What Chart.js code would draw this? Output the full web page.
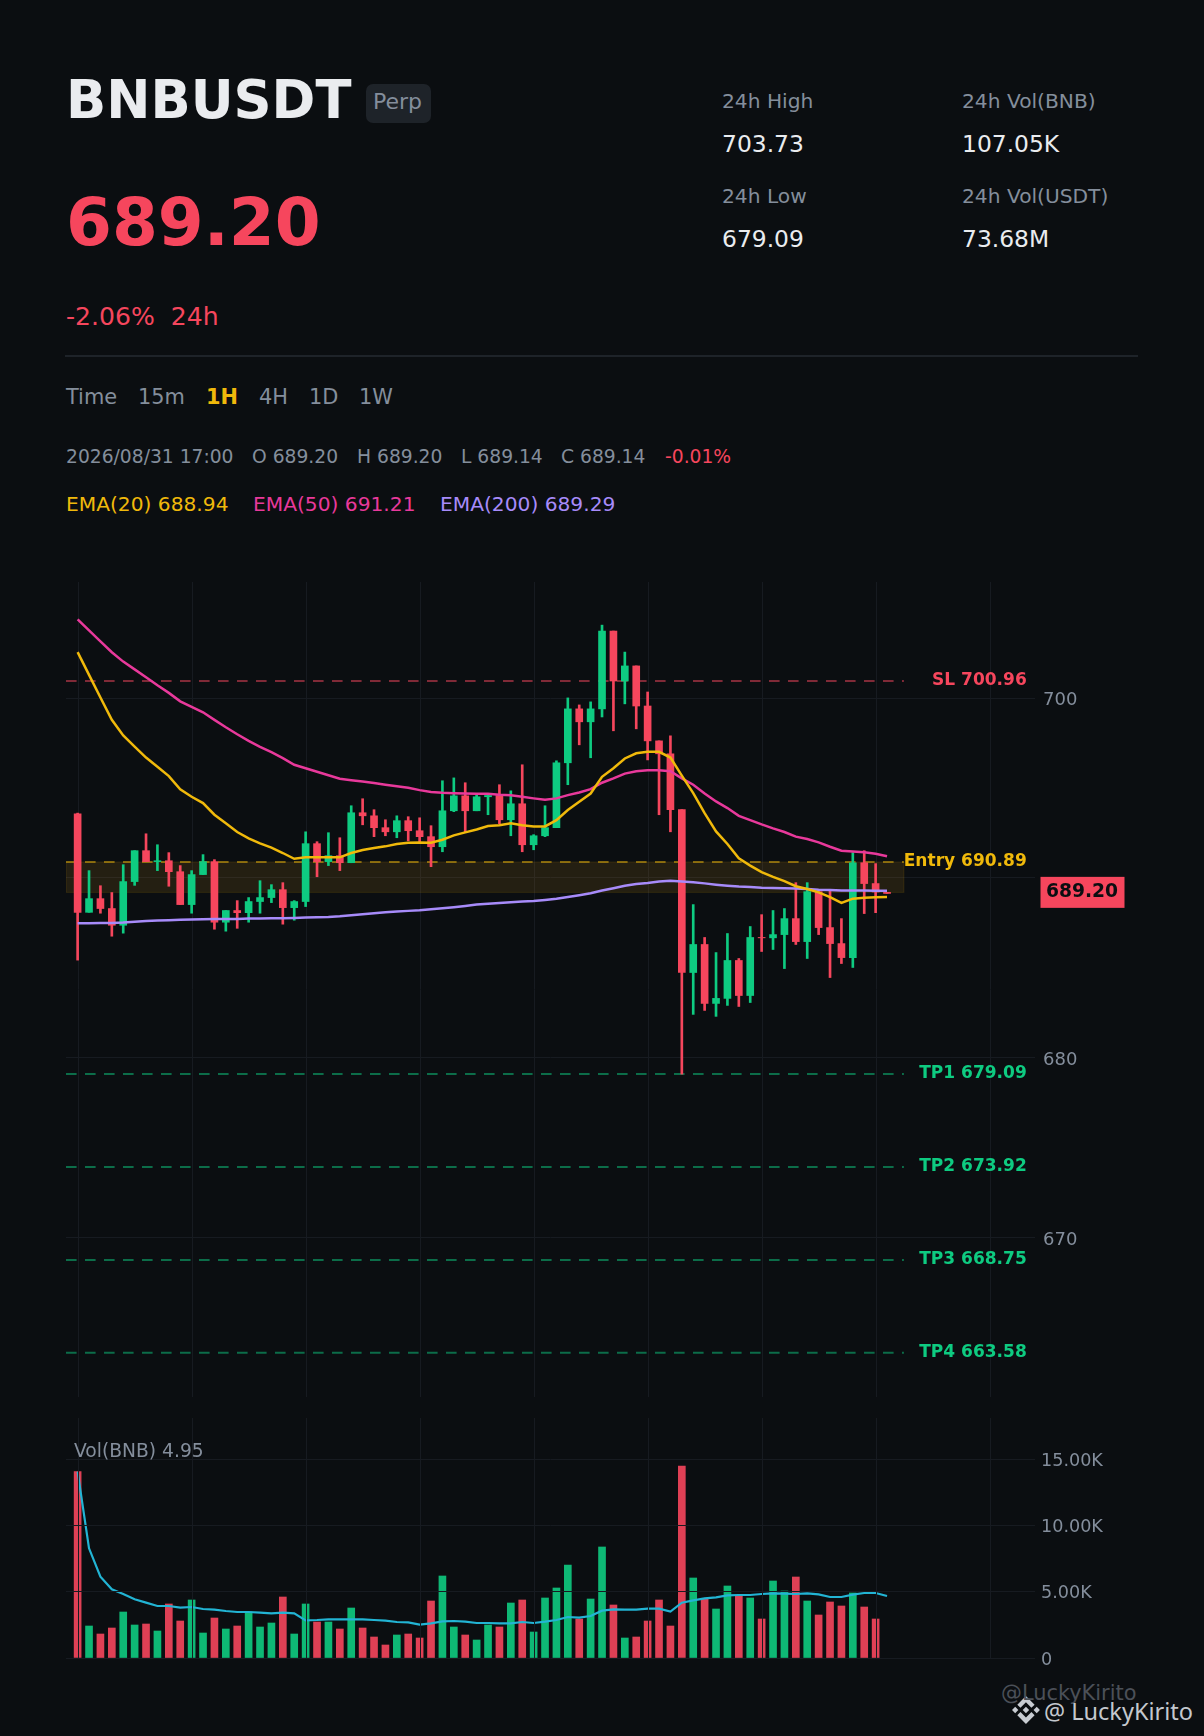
<!DOCTYPE html>
<html>
<head>
<meta charset="utf-8">
<title>BNBUSDT</title>
<script src="https://cdn.jsdelivr.net/npm/chart.js@4/dist/chart.umd.js"></script>
<style>
  html, body { margin: 0; padding: 0; background: #0b0e11; }
  body { position: relative; width: 1204px; height: 1736px; overflow: hidden; font-family: 'DejaVu Sans', sans-serif; }
  .t { position: absolute; white-space: pre; transform: translateY(-50%); line-height: 1.2; }
  #perp { position: absolute; left: 366px; top: 84px; width: 65px; height: 39px; border-radius: 7px; background: #1e2329; }
  #rule { position: absolute; left: 65px; top: 355px; width: 1073px; height: 2px; background: #1e2329; }
  canvas { position: absolute; display: block; }
  #priceChart { left: 66px; top: 582px; }
  #volChart { left: 66px; top: 1418px; }
  #logo { position: absolute; left: 1012px; top: 1696px; width: 28px; height: 28px; }
</style>
</head>
<body>
<div id="perp"></div>
<div id="rule"></div>
<canvas id="priceChart" width="1138" height="815"></canvas>
<canvas id="volChart" width="1138" height="260"></canvas>
<svg id="logo" viewBox="0 0 126 126"><g fill="#c8ccd2">
  <path d="M38.171 53.203L62.759 28.616l24.6 24.6 14.306-14.307L62.759 0 23.864 38.896z"/>
  <path d="M0 62.759l14.307-14.307 14.306 14.307-14.306 14.306z"/>
  <path d="M38.171 72.315l24.588 24.587 24.6-24.6 14.306 14.307-.007.007-38.899 38.9L23.864 86.61l-.006-.007z"/>
  <path d="M96.906 62.759l14.307-14.307 14.306 14.307-14.306 14.306z"/>
  <path d="M77.284 62.759L62.759 48.228 48.226 62.759l14.533 14.531z"/>
</g></svg>

<script>
const RED = '#f6465d', GREEN = '#0ecb81', YELLOW = '#f0b90b', PINK = '#e8399b', PURPLE = '#a78bfa', CYAN = '#22b4d4', GREY = '#848e9c';

const opens = [
  693.57,688.09,688.85,688.30,687.37,689.80,691.52,690.91,690.96,690.35,
  688.52,690.19,690.91,687.54,688.19,688.07,688.69,688.91,689.35,688.35,
  688.69,691.91,690.91,691.24,690.85,693.63,693.46,692.80,692.57,693.19,
  692.63,692.30,691.74,693.74,694.57,693.74,694.52,694.59,693.24,694.13,
  691.85,692.35,692.80,696.41,699.41,698.69,699.41,703.74,700.96,701.80,
  699.57,697.63,696.91,693.80,684.74,686.30,683.02,683.30,685.41,683.46,
  686.69,686.67,686.85,687.74,686.46,689.24,687.24,686.35,685.57,690.85,
  689.69,689.20];
const closes = [
  688.09,688.85,688.30,687.37,689.80,691.52,690.91,690.96,690.35,688.52,
  690.19,690.91,687.54,688.19,688.07,688.69,688.91,689.35,688.35,688.69,
  691.91,690.91,691.24,690.85,693.63,693.46,692.80,692.57,693.19,692.63,
  692.30,691.74,693.74,694.57,693.74,694.52,694.59,693.24,694.13,691.85,
  692.35,692.80,696.41,699.41,698.69,699.41,703.74,700.96,701.80,699.57,
  697.63,696.91,693.80,684.74,686.30,683.02,683.30,685.41,683.46,686.69,
  686.67,686.85,687.74,686.46,689.24,687.24,686.35,685.57,690.85,689.69,
  689.22,689.14];
const highs = [
  693.61,690.41,689.57,689.19,690.74,691.52,692.46,691.85,691.41,690.69,
  690.41,691.30,691.02,688.19,688.74,688.91,689.85,689.63,689.74,688.74,
  692.57,692.02,692.52,692.24,694.02,694.41,693.80,693.24,693.46,693.41,
  693.35,692.91,695.41,695.57,695.30,694.63,694.63,695.19,694.85,696.30,
  692.41,694.02,696.52,700.02,699.63,699.80,704.07,703.74,702.57,701.80,
  700.35,697.63,697.91,693.80,688.52,686.69,685.85,686.91,685.52,687.30,
  687.96,688.19,688.30,689.74,689.74,689.35,689.35,687.74,691.41,691.52,
  690.80,689.20];
const lows = [
  685.43,688.09,688.04,686.76,686.93,689.59,690.91,690.41,689.54,688.52,
  688.04,690.19,687.15,687.04,687.20,687.54,688.04,688.63,687.43,687.65,
  688.41,690.07,690.69,690.41,690.85,692.96,692.30,692.35,692.24,692.07,
  692.02,690.63,691.46,693.69,692.57,693.74,693.52,693.02,692.35,691.46,
  691.57,692.30,692.80,695.19,697.41,696.69,698.96,698.19,699.69,698.30,
  696.57,693.52,692.57,679.09,682.41,682.63,682.30,682.91,682.85,683.07,
  685.91,686.02,684.96,686.30,685.52,686.85,684.46,685.24,685.02,688.02,
  688.07,689.14];
const ema20 = [
  702.57,701.30,700.04,698.80,697.93,697.31,696.70,696.19,695.67,694.94,
  694.52,694.17,693.52,693.04,692.56,692.20,691.93,691.69,691.39,691.07,
  691.15,691.15,691.15,691.15,691.39,691.56,691.67,691.76,691.89,691.96,
  691.98,691.96,692.13,692.37,692.54,692.70,692.89,692.93,693.04,692.93,
  692.87,692.87,693.22,693.78,694.24,694.70,695.63,696.11,696.65,696.94,
  697.02,697.02,696.70,695.70,694.72,693.61,692.59,691.89,691.09,690.69,
  690.33,690.06,689.83,689.54,689.39,689.20,688.93,688.61,688.85,688.90,
  688.93,688.94];
const ema50 = [
  704.39,703.78,703.17,702.56,702.04,701.61,701.17,700.72,700.30,699.83,
  699.52,699.22,698.80,698.39,698.00,697.63,697.30,697.00,696.67,696.30,
  696.11,695.91,695.72,695.52,695.44,695.37,695.28,695.19,695.11,695.02,
  694.89,694.78,694.74,694.72,694.70,694.69,694.69,694.63,694.61,694.52,
  694.43,694.35,694.43,694.61,694.76,694.94,695.30,695.54,695.81,695.94,
  696.00,696.00,695.94,695.54,695.19,694.70,694.26,693.89,693.46,693.22,
  692.98,692.76,692.56,692.30,692.17,691.98,691.74,691.52,691.48,691.43,
  691.35,691.21];
const ema200 = [
  687.48,687.48,687.50,687.50,687.52,687.57,687.61,687.63,687.65,687.67,
  687.69,687.70,687.72,687.72,687.72,687.74,687.74,687.76,687.76,687.78,
  687.80,687.81,687.83,687.87,687.93,687.98,688.04,688.09,688.13,688.17,
  688.20,688.26,688.31,688.37,688.44,688.52,688.57,688.61,688.65,688.69,
  688.72,688.78,688.85,688.94,689.04,689.15,689.30,689.43,689.57,689.67,
  689.72,689.80,689.85,689.80,689.76,689.70,689.63,689.57,689.52,689.50,
  689.46,689.44,689.43,689.41,689.39,689.35,689.33,689.31,689.31,689.30,
  689.29,689.29];
// the last candle's 4.95 is only in the Vol(BNB) label: no bar is visible for it
const volumes = [
  14070,2416,1812,2265,3473,2492,2567,2039,4078,2794,
  4380,1888,3020,2190,2416,3473,2341,2643,4606,1812,
  4078,2718,2718,2190,3775,2265,1586,982,1737,1812,
  1510,4304,6192,2341,1737,1359,2492,2341,4153,4380,
  1963,4531,5286,7022,2945,4455,8382,4002,1510,1586,
  2794,4380,2416,14498,6041,4455,3700,5437,4682,4531,
  2945,5814,5059,6116,4304,3247,4229,3927,4908,3851,
  2945];
const volMa = [
  14070,8281,6141,5185,4833,4430,4178,3927,3927,3801,
  3851,3700,3650,3549,3473,3473,3423,3373,3423,3373,
  2844,2869,2920,2920,2920,2920,2869,2819,2718,2693,
  2517,2618,2769,2794,2744,2643,2643,2618,2618,2718,
  2643,2744,2869,3096,3046,3171,3574,3675,3650,3650,
  3725,3725,3499,4178,4354,4505,4581,4732,4757,4757,
  4833,4883,4858,4833,4883,4807,4606,4606,4782,4908,
  4908,4682];

// grid lines sit a little right of the candle centres in the picture
const xTicks = [0.06, 10.06, 20.06, 30.06, 40.06, 50.06, 60.06, 70.06, 80.06];
const priceTicks = [670, 680, 690, 700];
const priceTickLabels = ['670', '680', '', '700'];
const volTicks = [0, 5000, 10000, 15000];
const volTickLabels = ['0', '5.00K', '10.00K', '15.00K'];

const levelLabels = ['SL 700.96', 'Entry 690.89', 'TP1 679.09', 'TP2 673.92', 'TP3 668.75', 'TP4 663.58'];
const levelPrices = [700.96, 690.89, 679.09, 673.92, 668.75, 663.58];
const levelColors = [RED, YELLOW, GREEN, GREEN, GREEN, GREEN];
const zoneLow = 689.2, zoneHigh = 690.89;
const lastPrice = 689.20;

const X_MIN = -1.02, X_MAX = 83.98, LEVEL_END = 72.48, LABEL_X = 83.26;
const GRID = '#171b21';

Chart.defaults.font.family = "'DejaVu Sans', sans-serif";
Chart.defaults.animation = false;

const rgba = (hex, a) => {
  const n = parseInt(hex.slice(1), 16);
  return `rgba(${n >> 16},${(n >> 8) & 255},${n & 255},${a})`;
};
const candleColors = closes.map((c, i) => c >= opens[i] ? GREEN : RED);
const idx = opens.map((_, i) => i);

function label(x, cy, text, size, color, weight) {
  const el = document.createElement('div');
  el.className = 't';
  el.textContent = text;
  el.style.cssText = `left:${x}px;top:${cy}px;font-size:${size}px;color:${color};font-weight:${weight || 400}`;
  document.body.appendChild(el);
  return el;
}

label(66, 100, 'BNBUSDT', 52.8, '#eaecef', 700);
label(373, 102, 'Perp', 22, GREY);
label(66, 222.5, '689.20', 66, RED, 700);
label(66, 317, '-2.06%  24h', 25.1, RED);

label(722, 101, '24h High', 20.2, GREY);
label(722, 143.5, '703.73', 23.4, '#eaecef');
label(722, 196, '24h Low', 20.2, GREY);
label(722, 239, '679.09', 23.4, '#eaecef');
label(962, 101, '24h Vol(BNB)', 20.2, GREY);
label(962, 143.5, '107.05K', 23.4, '#eaecef');
label(962, 196, '24h Vol(USDT)', 20.2, GREY);
label(962, 239, '73.68M', 23.4, '#eaecef');

label(66, 398, 'Time', 20.9, GREY);
label(138, 398, '15m', 20.9, GREY);
label(206, 398, '1H', 20.9, YELLOW, 700);
label(259, 398, '4H', 20.9, GREY);
label(309, 398, '1D', 20.9, GREY);
label(359, 398, '1W', 20.9, GREY);

label(66, 457, '2026/08/31 17:00', 18.7, GREY);
label(252, 457, 'O 689.20', 18.7, GREY);
label(357, 457, 'H 689.20', 18.7, GREY);
label(461, 457, 'L 689.14', 18.7, GREY);
label(561, 457, 'C 689.14', 18.7, GREY);
label(665, 457, '-0.01%', 18.7, RED);

label(66, 504, 'EMA(20) 688.94', 20.2, YELLOW);
label(253, 504, 'EMA(50) 691.21', 20.2, PINK);
label(440, 504, 'EMA(200) 689.29', 20.2, PURPLE);

label(74, 1451, 'Vol(BNB) 4.95', 18.7, GREY);

label(1001, 1694, '@LuckyKirito', 20.9, '#4b5058');
label(1044, 1711, '@ LuckyKirito', 23.5, '#c4c8ce').style.fontFamily = "'Noto Sans', sans-serif";

const overlayPlugin = {
  id: 'overlay',
  beforeDatasetsDraw(chart) {
    const { ctx, scales: { x, y } } = chart;
    const left = x.getPixelForValue(X_MIN), right = x.getPixelForValue(LEVEL_END);
    const top = y.getPixelForValue(zoneHigh), bottom = y.getPixelForValue(zoneLow);
    ctx.save();
    ctx.fillStyle = 'rgba(240,170,30,0.115)';
    ctx.fillRect(left, top, right - left, bottom - top);
    ctx.strokeStyle = rgba(YELLOW, 0.12);
    ctx.lineWidth = 1;
    ctx.strokeRect(left, top, right - left, bottom - top);
    ctx.restore();
  },
  afterDraw(chart) {
    const { ctx, chartArea, scales: { x, y } } = chart;
    ctx.save();
    ctx.textBaseline = 'middle';
    ctx.textAlign = 'right';
    ctx.font = "700 17.05px 'DejaVu Sans'";
    levelLabels.forEach((t, i) => {
      ctx.fillStyle = levelColors[i];
      ctx.fillText(t, x.getPixelForValue(LABEL_X), y.getPixelForValue(levelPrices[i]));
    });
    // last price tag
    const ty = y.getPixelForValue(lastPrice);
    ctx.fillStyle = RED;
    ctx.fillRect(chartArea.right + 5.5, ty - 15.5, 84, 31);
    ctx.fillStyle = '#0b0e11';
    ctx.textAlign = 'center';
    ctx.font = "700 18.7px 'DejaVu Sans'";
    ctx.fillText(lastPrice.toFixed(2), chartArea.right + 47, ty);
    ctx.restore();
  }
};

const xAxis = (h, gridZ) => ({
  type: 'linear', min: X_MIN, max: X_MAX, offset: false,
  grid: { color: GRID, drawTicks: false, z: gridZ, offset: false },
  border: { display: false },
  ticks: { display: false },
  afterBuildTicks(s) { s.ticks = xTicks.map(v => ({ value: v })); },
  afterFit(s) { s.height = h; s.paddingLeft = 0; s.paddingRight = 0; }
});

const levelSets = levelPrices.map((p, i) => ({
  type: 'line',
  data: [{ x: X_MIN, y: p }, { x: LEVEL_END, y: p }],
  borderColor: rgba(levelColors[i], 0.5),
  borderWidth: 2,
  borderDash: [10.6, 8.4],
  pointRadius: 0,
  order: 6
}));

const emaSet = (values, color, order) => ({
  type: 'line',
  data: idx.map(i => ({ x: i, y: values[i] })),
  borderColor: color,
  borderWidth: 2.5,
  pointRadius: 0,
  tension: 0,
  order
});

new Chart(document.getElementById('priceChart'), {
  data: {
    datasets: [
      ...levelSets,
      {
        type: 'bar',
        data: idx.map(i => ({ x: i, y: [lows[i], highs[i]] })),
        backgroundColor: candleColors,
        barThickness: 2,
        grouped: false,
        order: 5
      },
      {
        type: 'bar',
        data: idx.map(i => ({ x: i, y: [opens[i], closes[i]] })),
        backgroundColor: candleColors,
        barThickness: 7,
        grouped: false,
        order: 4
      },
      emaSet(ema200, PURPLE, 3),
      emaSet(ema50, PINK, 2),
      emaSet(ema20, YELLOW, 1)
    ]
  },
  options: {
    responsive: false,
    events: [],
    layout: { padding: 0 },
    plugins: { legend: { display: false }, tooltip: { enabled: false } },
    scales: {
      x: xAxis(0, 0),
      y: {
        position: 'right',
        min: 661.12,
        max: 706.47,
        grid: { color: GRID, drawTicks: false },
        border: { display: false },
        ticks: {
          color: GREY,
          font: { size: 18 },
          padding: 8,
          labelOffset: 2.5,
          callback: v => priceTickLabels[priceTicks.indexOf(v)]
        },
        afterBuildTicks(s) { s.ticks = priceTicks.map(v => ({ value: v })); },
        afterFit(s) { s.width = 169; s.paddingTop = 0; s.paddingBottom = 0; }
      }
    }
  },
  plugins: [overlayPlugin]
});

new Chart(document.getElementById('volChart'), {
  data: {
    datasets: [
      {
        type: 'line',
        data: idx.map(i => ({ x: i, y: volMa[i] })),
        borderColor: CYAN,
        borderWidth: 2.2,
        pointRadius: 0,
        tension: 0,
        order: 1
      },
      {
        type: 'bar',
        data: volumes.map((v, i) => ({ x: i, y: v })),
        backgroundColor: candleColors.map(c => rgba(c, 0.9)),
        barThickness: 7,
        grouped: false,
        order: 2
      }
    ]
  },
  options: {
    responsive: false,
    events: [],
    layout: { padding: 0 },
    plugins: { legend: { display: false }, tooltip: { enabled: false } },
    scales: {
      x: xAxis(20, 1),
      y: {
        position: 'right',
        min: 0,
        max: 18120,
        grid: { color: GRID, drawTicks: false, z: 1 },
        border: { display: false },
        ticks: {
          color: GREY,
          font: { size: 17.6 },
          padding: 6,
          labelOffset: 2,
          callback: v => volTickLabels[volTicks.indexOf(v)]
        },
        afterBuildTicks(s) { s.ticks = volTicks.map(v => ({ value: v })); },
        afterFit(s) { s.width = 169; s.paddingTop = 0; s.paddingBottom = 0; }
      }
    }
  }
});
</script>
</body>
</html>
